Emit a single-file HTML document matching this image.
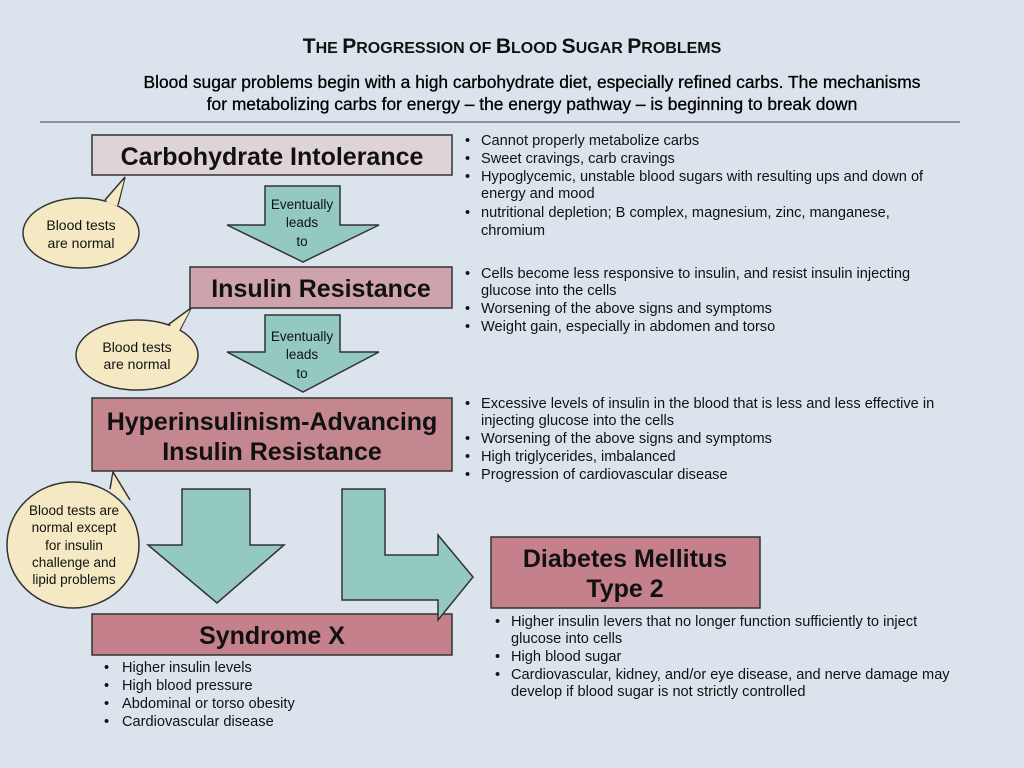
<!DOCTYPE html>
<html><head><meta charset="utf-8"><style>
html,body{margin:0;padding:0;background:#dbe4ec;}
svg{display:block;font-family:"Liberation Sans",sans-serif;}
.b{font-size:14.6px;fill:#111;}
.h{font-weight:bold;fill:#111;}
</style></head><body>
<svg width="1024" height="768" viewBox="0 0 1024 768">
<rect width="1024" height="768" fill="#dbe4ec"/>
<text x="512" y="53" text-anchor="middle" class="h" font-size="21">T<tspan font-size="16">HE </tspan>P<tspan font-size="16">ROGRESSION OF </tspan>B<tspan font-size="16">LOOD </tspan>S<tspan font-size="16">UGAR </tspan>P<tspan font-size="16">ROBLEMS</tspan></text>
<text x="532" y="88" text-anchor="middle" font-size="17.4" fill="#000" stroke="#000" stroke-width="0.3">Blood sugar problems begin with a high carbohydrate diet, especially refined carbs. The mechanisms</text>
<text x="532" y="110" text-anchor="middle" font-size="17.4" fill="#000" stroke="#000" stroke-width="0.3">for metabolizing carbs for energy – the energy pathway – is beginning to break down</text>
<line x1="40" y1="122" x2="960" y2="122" stroke="#6a7a86" stroke-width="1.5"/>

<g stroke="#333" stroke-width="1.5">
<rect x="92" y="135" width="360" height="40" fill="#ddd3d8"/>
<rect x="190" y="267" width="262" height="41" fill="#cfa3ad"/>
<rect x="92" y="398" width="360" height="73" fill="#c4868f"/>
<rect x="491" y="537" width="269" height="71" fill="#c4808b"/>
<rect x="92" y="614" width="360" height="41" fill="#c4808b"/>
<polygon points="265,186 340,186 340,225 379,225 303,262 227,225 265,225" fill="#93c9c0"/>
<polygon points="265,315 340,315 340,352 379,352 303,392 227,352 265,352" fill="#93c9c0"/>
<polygon points="182,489 250,489 250,545 284,545 217,603 148,545 182,545" fill="#93c9c0"/>
<polygon points="342,489 385,489 385,555 438,555 438,535 473,577 438,620 438,600 342,600" fill="#93c9c0"/>
<path d="M105,200 L125,177 L118,205" fill="#f5e9c4"/>
<ellipse cx="81" cy="233" rx="58" ry="35" fill="#f5e9c4"/>
<path d="M165,327 L191,308 L180,330" fill="#f5e9c4"/>
<ellipse cx="137" cy="355" rx="61" ry="35" fill="#f5e9c4"/>
<path d="M110,489 L113,472 L130,500" fill="#f5e9c4"/>
<ellipse cx="73" cy="545" rx="66" ry="63" fill="#f5e9c4"/>
</g>
<path d="M106,202 L124,180 L117,206" fill="#f5e9c4"/>
<path d="M166,329 L190,310 L179,331" fill="#f5e9c4"/>
<path d="M111,492 L113,475 L129,502" fill="#f5e9c4"/>

<text x="272" y="165" text-anchor="middle" class="h" font-size="25">Carbohydrate Intolerance</text>
<text x="321" y="297" text-anchor="middle" class="h" font-size="25">Insulin Resistance</text>
<text x="272" y="430" text-anchor="middle" class="h" font-size="25">Hyperinsulinism-Advancing</text>
<text x="272" y="460" text-anchor="middle" class="h" font-size="25">Insulin Resistance</text>
<text x="625" y="567" text-anchor="middle" class="h" font-size="25">Diabetes Mellitus</text>
<text x="625" y="597" text-anchor="middle" class="h" font-size="25">Type 2</text>
<text x="272" y="644" text-anchor="middle" class="h" font-size="25">Syndrome X</text>

<g font-size="13.5" fill="#111" text-anchor="middle">
<text x="302" y="209">Eventually</text><text x="302" y="227">leads</text><text x="302" y="246">to</text>
<text x="302" y="341">Eventually</text><text x="302" y="359">leads</text><text x="302" y="378">to</text>
<text x="81" y="230" font-size="14">Blood tests</text><text x="81" y="248" font-size="14">are normal</text>
<text x="137" y="352" font-size="14">Blood tests</text><text x="137" y="369" font-size="14">are normal</text>
<text x="74" y="515">Blood tests are</text><text x="74" y="532">normal except</text><text x="74" y="550">for insulin</text><text x="74" y="567">challenge and</text><text x="74" y="584">lipid problems</text>
</g>

<g class="b">
<text x="465" y="145">•</text><text x="481" y="145">Cannot properly metabolize carbs</text>
<text x="465" y="163">•</text><text x="481" y="163">Sweet cravings, carb cravings</text>
<text x="465" y="181">•</text><text x="481" y="181">Hypoglycemic, unstable blood sugars with resulting ups and down of</text>
<text x="481" y="198">energy and mood</text>
<text x="465" y="217">•</text><text x="481" y="217">nutritional depletion; B complex, magnesium, zinc, manganese,</text>
<text x="481" y="235">chromium</text>

<text x="465" y="278">•</text><text x="481" y="278">Cells become less responsive to insulin, and resist insulin injecting</text>
<text x="481" y="295">glucose into the cells</text>
<text x="465" y="313">•</text><text x="481" y="313">Worsening of the above signs and symptoms</text>
<text x="465" y="331">•</text><text x="481" y="331">Weight gain, especially in abdomen and torso</text>

<text x="465" y="408">•</text><text x="481" y="408">Excessive levels of insulin in the blood that is less and less effective in</text>
<text x="481" y="425">injecting glucose into the cells</text>
<text x="465" y="443">•</text><text x="481" y="443">Worsening of the above signs and symptoms</text>
<text x="465" y="461">•</text><text x="481" y="461">High triglycerides, imbalanced</text>
<text x="465" y="479">•</text><text x="481" y="479">Progression of cardiovascular disease</text>

<text x="495" y="626">•</text><text x="511" y="626">Higher insulin levers that no longer function sufficiently to inject</text>
<text x="511" y="643">glucose into cells</text>
<text x="495" y="661">•</text><text x="511" y="661">High blood sugar</text>
<text x="495" y="679">•</text><text x="511" y="679">Cardiovascular, kidney, and/or eye disease, and nerve damage may</text>
<text x="511" y="696">develop if blood sugar is not strictly controlled</text>

<text x="104" y="672">•</text><text x="122" y="672">Higher insulin levels</text>
<text x="104" y="690">•</text><text x="122" y="690">High blood pressure</text>
<text x="104" y="708">•</text><text x="122" y="708">Abdominal or torso obesity</text>
<text x="104" y="726">•</text><text x="122" y="726">Cardiovascular disease</text>
</g>
</svg>
</body></html>
